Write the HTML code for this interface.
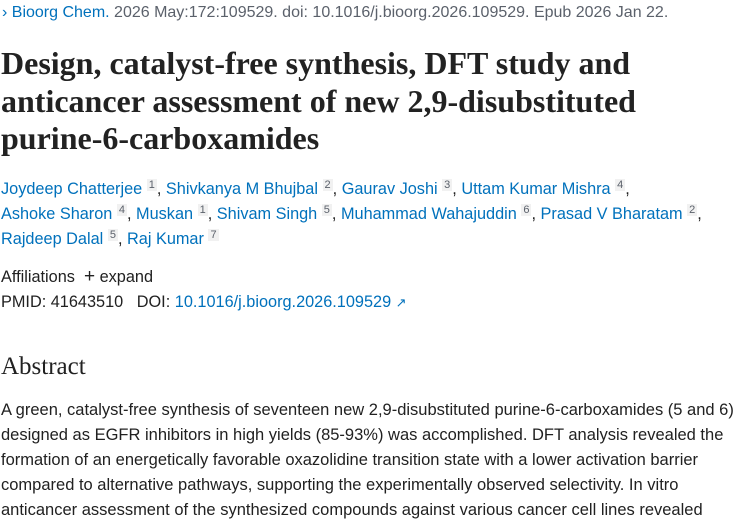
<!DOCTYPE html>
<html><head><meta charset="utf-8">
<style>
body{margin:0;width:750px;height:500px;overflow:hidden;background:#fff;font-family:"Liberation Sans",sans-serif;color:#212121}
.a{position:absolute;white-space:nowrap}
.top{left:2px;top:4px;font-size:16px;color:#5b616b}
.top .j{color:#0071bc}
.title{left:1px;top:45px;font-family:"Liberation Serif",serif;font-weight:bold;font-size:32px;line-height:37.5px;color:#222}
.auth{left:1px;top:177px;font-size:16.3px;line-height:25px;color:#0071bc}
.auth sup{font-size:11px;line-height:0;color:#5b616b;background:#f1f1f1;padding:0 2px;vertical-align:6px}
.auth .c{color:#212121}
.aff{left:1px;top:266px;font-size:16.3px}
.pm{left:1px;top:293px;font-size:16.3px}
.pm .l{color:#0071bc}
.abs{left:1px;top:353px;font-family:"Liberation Serif",serif;font-size:25px;color:#212121}
.body{left:1px;top:398px;font-size:16.5px;line-height:25px;color:#212121}
</style></head><body>
<div class="a top"><span class="j">&#8250; Bioorg Chem.</span> 2026 May:172:109529. doi: 10.1016/j.bioorg.2026.109529. Epub 2026 Jan 22.</div>
<div class="a title">Design, catalyst-free synthesis, DFT study and<br>anticancer assessment of new 2,9-disubstituted<br>purine-6-carboxamides</div>
<div class="a auth">Joydeep Chatterjee <sup>1</sup><span class="c">, </span>Shivkanya M Bhujbal <sup>2</sup><span class="c">, </span>Gaurav Joshi <sup>3</sup><span class="c">, </span>Uttam Kumar Mishra <sup>4</sup><span class="c">,</span><br>Ashoke Sharon <sup>4</sup><span class="c">, </span>Muskan <sup>1</sup><span class="c">, </span>Shivam Singh <sup>5</sup><span class="c">, </span>Muhammad Wahajuddin <sup>6</sup><span class="c">, </span>Prasad V Bharatam <sup>2</sup><span class="c">,</span><br>Rajdeep Dalal <sup>5</sup><span class="c">, </span>Raj Kumar <sup>7</sup></div>
<div class="a aff">Affiliations &nbsp;<span style="font-size:19px">+</span> expand</div>
<div class="a pm">PMID: 41643510 &nbsp;&nbsp;DOI: <span class="l">10.1016/j.bioorg.2026.109529 <span style="font-size:13px">&#8599;</span></span></div>
<div class="a abs">Abstract</div>
<div class="a body">A green, catalyst-free synthesis of seventeen new 2,9-disubstituted purine-6-carboxamides (5 and 6)<br>designed as EGFR inhibitors in high yields (85-93%) was accomplished. DFT analysis revealed the<br>formation of an energetically favorable oxazolidine transition state with a lower activation barrier<br>compared to alternative pathways, supporting the experimentally observed selectivity. In vitro<br>anticancer assessment of the synthesized compounds against various cancer cell lines revealed</div>
</body></html>
